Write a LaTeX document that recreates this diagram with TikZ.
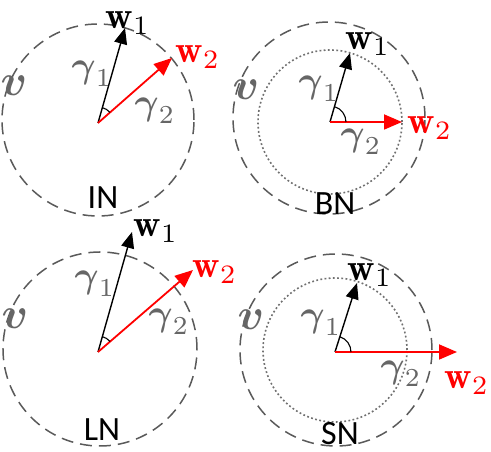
\documentclass[tikz,border=0pt]{standalone}
\usepackage{amsmath}
\usepackage{graphicx}
\usepackage{fontspec}
\newfontfamily\carlito{Carlito}
\usetikzlibrary{arrows.meta,angles}
\definecolor{circgray}{HTML}{5A5A5A}
\definecolor{dotgray}{HTML}{707070}
\definecolor{txtgray}{HTML}{666666}
\definecolor{vred}{HTML}{FF0000}
\newcommand{\bigmath}[2]{\scalebox{#1}{$#2$}}
\tikzset{
  outercirc/.style={draw=circgray, line width=1.5pt, dash pattern=on 12pt off 7pt},
  innercirc/.style={draw=dotgray, line width=1.6pt, dash pattern=on 1.8pt off 2.4pt},
  blackvec/.style={draw=black, line width=1.4pt, -{Triangle[length=16pt,width=13pt]}},
  redvec/.style={draw=vred, line width=1.8pt, -{Triangle[length=18pt,width=15pt]}},
  wlab/.style={font=\normalsize, inner sep=0pt},
  glab/.style={font=\normalsize, text=txtgray, inner sep=0pt},
  vlab/.style={font=\normalsize, text=txtgray, inner sep=0pt},
  nlab/.style={font=\carlito\fontsize{34}{38}\selectfont, inner sep=0pt},
  anglearc/.style={draw=black, line width=1.1pt, angle radius=16pt}
}
\newcommand{\wA}{\bigmath{3.8}{\mathbf{w}_1}}
\newcommand{\wB}{\bigmath{3.8}{\mathbf{w}_2}}
\newcommand{\gA}{\bigmath{3.7}{\boldsymbol{\gamma}_1}}
\newcommand{\gB}{\bigmath{3.7}{\boldsymbol{\gamma}_2}}
\newcommand{\vv}{\bigmath{4.4}{\boldsymbol{v}}}
\begin{document}
\begin{tikzpicture}[x=1pt,y=1pt]
\useasboundingbox (0,0) rectangle (491,452);
% ---------- IN ----------
\coordinate (inC) at (98,332);
\coordinate (inO) at (98,329);
\coordinate (inW1) at (125,424);
\coordinate (inW2) at (172,394);
\draw[outercirc] (inC) circle (96);
\draw[blackvec] (inO) -- (inW1);
\draw[redvec] (inO) -- (inW2);
\pic[anglearc] {angle = inW2--inO--inW1};
\node[wlab] (inw1l) at (128,429) {\wA};
\node[wlab, text=vred] (inw2l) at (198,395) {\wB};
\node[glab] (ing1) at (92,378) {\gA};
\node[glab] (ing2) at (155,341) {\gB};
\node[vlab] (inv) at (14,366) {\vv};
\node[nlab] (inn) at (103,254) {IN};
% ---------- BN ----------
\coordinate (bnC) at (329,334);
\coordinate (bnO) at (330,330);
\coordinate (bnW1) at (350,399);
\coordinate (bnW2) at (402,330);
\draw[outercirc] (bnC) circle (96);
\draw[innercirc] (bnO) circle (72);
\draw[blackvec] (bnO) -- (bnW1);
\draw[redvec] (bnO) -- (bnW2);
\pic[anglearc] {angle = bnW2--bnO--bnW1};
\node[wlab] (bnw1l) at (368,408) {\wA};
\node[wlab, text=vred] (bnw2l) at (430,324) {\wB};
\node[glab] (bng1) at (319,363) {\gA};
\node[glab] (bng2) at (361,310) {\gB};
\node[vlab] (bnv) at (246,362) {\vv};
\node[nlab] (bnn) at (335,248) {BN};
% ---------- LN ----------
\coordinate (lnC) at (100,103);
\coordinate (lnO) at (98,100);
\coordinate (lnW1) at (132,220);
\coordinate (lnW2) at (193,182);
\draw[outercirc] (lnC) circle (97);
\draw[blackvec] (lnO) -- (lnW1);
\draw[redvec] (lnO) -- (lnW2);
\pic[anglearc] {angle = lnW2--lnO--lnW1};
\node[wlab] (lnw1l) at (156,221) {\wA};
\node[wlab, text=vred] (lnw2l) at (215,180) {\wB};
\node[glab] (lng1) at (95,168) {\gA};
\node[glab] (lng2) at (169,130) {\gB};
\node[vlab] (lnv) at (15,133) {\vv};
\node[nlab] (lnn) at (102,22) {LN};
% ---------- SN ----------
\coordinate (snC) at (336,102);
\coordinate (snI) at (335,102);
\coordinate (snO) at (335,100);
\coordinate (snW1) at (357,169);
\coordinate (snW2) at (457,100);
\draw[outercirc] (snC) circle (96);
\draw[innercirc] (snI) circle (72);
\draw[blackvec] (snO) -- (snW1);
\draw[redvec] (snO) -- (snW2);
\pic[anglearc] {angle = snW2--snO--snW1};
\node[wlab] (snw1l) at (370,177) {\wA};
\node[wlab, text=vred] (snw2l) at (467,69) {\wB};
\node[glab] (sng1) at (321,129) {\gA};
\node[glab] (sng2) at (401,78) {\gB};
\node[vlab] (snv) at (251,132) {\vv};
\node[nlab] (snn) at (340,18) {SN};
\end{tikzpicture}
\end{document}
